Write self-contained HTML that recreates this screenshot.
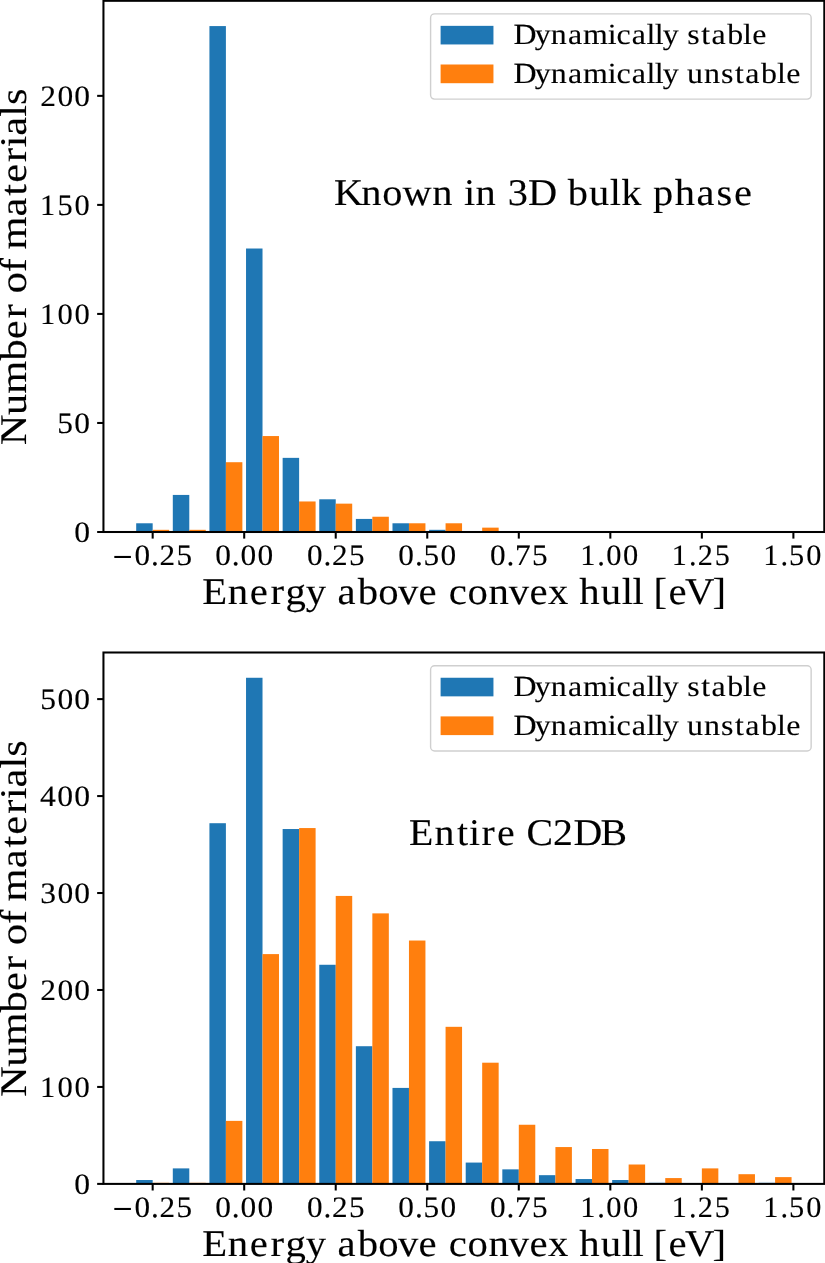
<!DOCTYPE html>
<html><head><meta charset="utf-8"><style>
html,body{margin:0;padding:0;background:#fff;}
svg{display:block;will-change:transform;}
text{font-family:"Liberation Serif",serif;font-kerning:none;fill:#000;text-rendering:geometricPrecision;}
text.l{stroke:#000;stroke-width:0.12px;}
</style></head><body>
<svg width="825" height="1263" viewBox="0 0 825 1263">
<rect x="136.19" y="523.28" width="16.48" height="8.72" fill="#1f77b4"/>
<rect x="152.67" y="529.82" width="16.48" height="2.18" fill="#ff7f0e"/>
<rect x="172.80" y="494.93" width="16.48" height="37.07" fill="#1f77b4"/>
<rect x="189.28" y="529.82" width="16.48" height="2.18" fill="#ff7f0e"/>
<rect x="209.42" y="26.08" width="16.48" height="505.92" fill="#1f77b4"/>
<rect x="225.89" y="462.22" width="16.48" height="69.78" fill="#ff7f0e"/>
<rect x="246.03" y="248.51" width="16.48" height="283.49" fill="#1f77b4"/>
<rect x="262.51" y="436.05" width="16.48" height="95.95" fill="#ff7f0e"/>
<rect x="282.64" y="457.86" width="16.48" height="74.14" fill="#1f77b4"/>
<rect x="299.12" y="501.47" width="16.48" height="30.53" fill="#ff7f0e"/>
<rect x="319.26" y="499.29" width="16.48" height="32.71" fill="#1f77b4"/>
<rect x="335.73" y="503.65" width="16.48" height="28.35" fill="#ff7f0e"/>
<rect x="355.87" y="518.92" width="16.48" height="13.08" fill="#1f77b4"/>
<rect x="372.35" y="516.74" width="16.48" height="15.26" fill="#ff7f0e"/>
<rect x="392.48" y="523.28" width="16.48" height="8.72" fill="#1f77b4"/>
<rect x="408.96" y="523.28" width="16.48" height="8.72" fill="#ff7f0e"/>
<rect x="429.10" y="529.82" width="16.48" height="2.18" fill="#1f77b4"/>
<rect x="445.57" y="523.28" width="16.48" height="8.72" fill="#ff7f0e"/>
<rect x="482.18" y="527.64" width="16.48" height="4.36" fill="#ff7f0e"/>
<rect x="103.45" y="0.80" width="720.85" height="531.20" fill="none" stroke="#000" stroke-width="2.05"/>
<line x1="152.67" y1="532.00" x2="152.67" y2="538.60" stroke="#000" stroke-width="2.05"/>
<text class="l" transform="translate(112.56,570.99) scale(35.783,42.247)" font-size="1" style="stroke:none">−</text>
<text class="l" transform="translate(0,565.30) scale(1.0533,1)" x="127.66 143.43 151.55 167.65" font-size="29.61">0.25</text>
<line x1="244.20" y1="532.00" x2="244.20" y2="538.60" stroke="#000" stroke-width="2.05"/>
<text class="l" transform="translate(0,565.30) scale(1.0610,1)" x="202.81 218.49 226.73 242.68" font-size="29.61">0.00</text>
<line x1="335.73" y1="532.00" x2="335.73" y2="538.60" stroke="#000" stroke-width="2.05"/>
<text class="l" transform="translate(0,565.30) scale(1.0533,1)" x="291.39 307.15 315.27 331.37" font-size="29.61">0.25</text>
<line x1="427.26" y1="532.00" x2="427.26" y2="538.60" stroke="#000" stroke-width="2.05"/>
<text class="l" transform="translate(0,565.30) scale(1.0578,1)" x="376.53 392.24 400.34 416.52" font-size="29.61">0.50</text>
<line x1="518.80" y1="532.00" x2="518.80" y2="538.60" stroke="#000" stroke-width="2.05"/>
<text class="l" transform="translate(0,565.30) scale(1.0564,1)" x="463.81 479.54 487.44 503.68" font-size="29.61">0.75</text>
<line x1="610.33" y1="532.00" x2="610.33" y2="538.60" stroke="#000" stroke-width="2.05"/>
<text class="l" transform="translate(0,565.30) scale(1.0290,1)" x="563.79 580.50 589.12 605.57" font-size="29.61">1.00</text>
<line x1="701.86" y1="532.00" x2="701.86" y2="538.60" stroke="#000" stroke-width="2.05"/>
<text class="l" transform="translate(0,565.30) scale(1.0197,1)" x="658.88 675.71 684.22 700.86" font-size="29.61">1.25</text>
<line x1="793.39" y1="532.00" x2="793.39" y2="538.60" stroke="#000" stroke-width="2.05"/>
<text class="l" transform="translate(0,565.30) scale(1.0250,1)" x="744.60 761.36 769.85 786.54" font-size="29.61">1.50</text>
<line x1="103.45" y1="532.00" x2="97.15" y2="532.00" stroke="#000" stroke-width="2.05"/>
<text class="l" transform="translate(0,541.70) scale(1.0679,1)" x="69.57" font-size="29.61">0</text>
<line x1="103.45" y1="422.97" x2="97.15" y2="422.97" stroke="#000" stroke-width="2.05"/>
<text class="l" transform="translate(0,432.67) scale(1.0627,1)" x="53.84 69.95" font-size="29.61">50</text>
<line x1="103.45" y1="313.93" x2="97.15" y2="313.93" stroke="#000" stroke-width="2.05"/>
<text class="l" transform="translate(0,323.63) scale(1.0331,1)" x="38.73 55.78 72.16" font-size="29.61">100</text>
<line x1="103.45" y1="204.90" x2="97.15" y2="204.90" stroke="#000" stroke-width="2.05"/>
<text class="l" transform="translate(0,214.60) scale(1.0288,1)" x="38.93 55.87 72.49" font-size="29.61">150</text>
<line x1="103.45" y1="95.86" x2="97.15" y2="95.86" stroke="#000" stroke-width="2.05"/>
<text class="l" transform="translate(0,105.56) scale(1.0633,1)" x="37.86 53.99 69.90" font-size="29.61">200</text>
<text class="l" transform="translate(0,603.85) scale(1.0818,1)" x="187.05 210.57 230.87 250.11 263.95 282.66 301.47 311.96 330.67 349.69 367.84 386.97 403.67 414.90 432.07 451.53 470.34 489.48 506.62 525.44 535.56 555.40 574.71 584.70 595.16 604.12 617.87 633.32 658.52" font-size="37.63">Energy above convex hull [eV]</text>
<g transform="translate(25.7,443.01) rotate(-90)">
<text class="l" transform="translate(0,0.00) scale(1.1275,1)" x="-1.97 24.93 43.68 73.08 92.12 110.66 123.19 132.89 151.48 164.01 171.56 200.88 219.29 230.74 249.27 262.10 272.46 289.38 299.77" font-size="37.63">Number of materials</text>
</g>
<text class="l" transform="translate(0,204.80) scale(1.0733,1)" x="311.26 336.57 356.20 375.09 402.76 421.58 432.32 443.13 461.94 473.18 491.94 519.12 529.04 548.80 568.23 578.84 597.66 608.36 628.68 649.01 667.55 683.85" font-size="37.63">Known in 3D bulk phase</text>
<rect x="430.6" y="13.90" width="380.55" height="85.2" rx="4" ry="4" fill="#fff" fill-opacity="0.8" stroke="#cfcfcf" stroke-width="1.4"/>
<rect x="440.6" y="25.85" width="52.85" height="18.6" fill="#1f77b4"/>
<rect x="440.6" y="64.50" width="52.85" height="18.7" fill="#ff7f0e"/>
<text class="l" transform="translate(0,44.35) scale(1.0886,1)" x="471.73 491.16 505.95 521.71 535.56 558.30 566.31 580.28 593.82 601.54 608.80 623.44 631.30 644.20 653.57 668.04 682.58 691.10" font-size="29.28">Dynamically stable</text>
<text class="l" transform="translate(0,83.20) scale(1.0922,1)" x="470.13 489.51 504.24 519.95 533.74 556.43 564.40 578.33 591.83 599.53 606.75 621.39 629.09 644.65 660.20 673.06 682.39 696.81 711.31 719.80" font-size="29.28">Dynamically unstable</text>
<rect x="136.19" y="1180.02" width="16.48" height="3.88" fill="#1f77b4"/>
<rect x="152.67" y="1181.90" width="16.48" height="1" fill="#ff7f0e" fill-opacity="0.22"/>
<rect x="172.80" y="1168.39" width="16.48" height="15.51" fill="#1f77b4"/>
<rect x="189.28" y="1181.90" width="16.48" height="1" fill="#ff7f0e" fill-opacity="0.22"/>
<rect x="209.42" y="823.21" width="16.48" height="360.69" fill="#1f77b4"/>
<rect x="225.89" y="1120.88" width="16.48" height="63.02" fill="#ff7f0e"/>
<rect x="246.03" y="677.77" width="16.48" height="506.13" fill="#1f77b4"/>
<rect x="262.51" y="954.10" width="16.48" height="229.80" fill="#ff7f0e"/>
<rect x="282.64" y="829.03" width="16.48" height="354.87" fill="#1f77b4"/>
<rect x="299.12" y="828.06" width="16.48" height="355.84" fill="#ff7f0e"/>
<rect x="319.26" y="964.77" width="16.48" height="219.13" fill="#1f77b4"/>
<rect x="335.73" y="895.93" width="16.48" height="287.97" fill="#ff7f0e"/>
<rect x="355.87" y="1046.22" width="16.48" height="137.68" fill="#1f77b4"/>
<rect x="372.35" y="913.38" width="16.48" height="270.52" fill="#ff7f0e"/>
<rect x="392.48" y="1087.91" width="16.48" height="95.99" fill="#1f77b4"/>
<rect x="408.96" y="940.53" width="16.48" height="243.37" fill="#ff7f0e"/>
<rect x="429.10" y="1141.24" width="16.48" height="42.66" fill="#1f77b4"/>
<rect x="445.57" y="1026.82" width="16.48" height="157.08" fill="#ff7f0e"/>
<rect x="465.71" y="1162.57" width="16.48" height="21.33" fill="#1f77b4"/>
<rect x="482.18" y="1062.70" width="16.48" height="121.20" fill="#ff7f0e"/>
<rect x="502.32" y="1169.36" width="16.48" height="14.54" fill="#1f77b4"/>
<rect x="518.80" y="1124.75" width="16.48" height="59.15" fill="#ff7f0e"/>
<rect x="538.93" y="1175.17" width="16.48" height="8.73" fill="#1f77b4"/>
<rect x="555.41" y="1147.06" width="16.48" height="36.84" fill="#ff7f0e"/>
<rect x="575.55" y="1179.05" width="16.48" height="4.85" fill="#1f77b4"/>
<rect x="592.02" y="1148.99" width="16.48" height="34.91" fill="#ff7f0e"/>
<rect x="612.16" y="1180.02" width="16.48" height="3.88" fill="#1f77b4"/>
<rect x="628.64" y="1164.51" width="16.48" height="19.39" fill="#ff7f0e"/>
<rect x="648.77" y="1181.90" width="16.48" height="1" fill="#1f77b4" fill-opacity="0.22"/>
<rect x="665.25" y="1178.08" width="16.48" height="5.82" fill="#ff7f0e"/>
<rect x="701.86" y="1168.39" width="16.48" height="15.51" fill="#ff7f0e"/>
<rect x="738.48" y="1174.20" width="16.48" height="9.70" fill="#ff7f0e"/>
<rect x="758.61" y="1181.90" width="16.48" height="1" fill="#1f77b4" fill-opacity="0.22"/>
<rect x="775.09" y="1177.11" width="16.48" height="6.79" fill="#ff7f0e"/>
<rect x="103.45" y="652.50" width="720.85" height="531.40" fill="none" stroke="#000" stroke-width="2.05"/>
<line x1="152.67" y1="1183.90" x2="152.67" y2="1190.50" stroke="#000" stroke-width="2.05"/>
<text class="l" transform="translate(112.56,1222.89) scale(35.783,42.247)" font-size="1" style="stroke:none">−</text>
<text class="l" transform="translate(0,1217.20) scale(1.0533,1)" x="127.66 143.43 151.55 167.65" font-size="29.61">0.25</text>
<line x1="244.20" y1="1183.90" x2="244.20" y2="1190.50" stroke="#000" stroke-width="2.05"/>
<text class="l" transform="translate(0,1217.20) scale(1.0610,1)" x="202.81 218.49 226.73 242.68" font-size="29.61">0.00</text>
<line x1="335.73" y1="1183.90" x2="335.73" y2="1190.50" stroke="#000" stroke-width="2.05"/>
<text class="l" transform="translate(0,1217.20) scale(1.0533,1)" x="291.39 307.15 315.27 331.37" font-size="29.61">0.25</text>
<line x1="427.26" y1="1183.90" x2="427.26" y2="1190.50" stroke="#000" stroke-width="2.05"/>
<text class="l" transform="translate(0,1217.20) scale(1.0578,1)" x="376.53 392.24 400.34 416.52" font-size="29.61">0.50</text>
<line x1="518.80" y1="1183.90" x2="518.80" y2="1190.50" stroke="#000" stroke-width="2.05"/>
<text class="l" transform="translate(0,1217.20) scale(1.0564,1)" x="463.81 479.54 487.44 503.68" font-size="29.61">0.75</text>
<line x1="610.33" y1="1183.90" x2="610.33" y2="1190.50" stroke="#000" stroke-width="2.05"/>
<text class="l" transform="translate(0,1217.20) scale(1.0290,1)" x="563.79 580.50 589.12 605.57" font-size="29.61">1.00</text>
<line x1="701.86" y1="1183.90" x2="701.86" y2="1190.50" stroke="#000" stroke-width="2.05"/>
<text class="l" transform="translate(0,1217.20) scale(1.0197,1)" x="658.88 675.71 684.22 700.86" font-size="29.61">1.25</text>
<line x1="793.39" y1="1183.90" x2="793.39" y2="1190.50" stroke="#000" stroke-width="2.05"/>
<text class="l" transform="translate(0,1217.20) scale(1.0250,1)" x="744.60 761.36 769.85 786.54" font-size="29.61">1.50</text>
<line x1="103.45" y1="1183.90" x2="97.15" y2="1183.90" stroke="#000" stroke-width="2.05"/>
<text class="l" transform="translate(0,1193.60) scale(1.0679,1)" x="69.57" font-size="29.61">0</text>
<line x1="103.45" y1="1086.94" x2="97.15" y2="1086.94" stroke="#000" stroke-width="2.05"/>
<text class="l" transform="translate(0,1096.64) scale(1.0331,1)" x="38.73 55.78 72.16" font-size="29.61">100</text>
<line x1="103.45" y1="989.98" x2="97.15" y2="989.98" stroke="#000" stroke-width="2.05"/>
<text class="l" transform="translate(0,999.68) scale(1.0633,1)" x="37.86 53.99 69.90" font-size="29.61">200</text>
<line x1="103.45" y1="893.02" x2="97.15" y2="893.02" stroke="#000" stroke-width="2.05"/>
<text class="l" transform="translate(0,902.72) scale(1.0641,1)" x="37.93 53.94 69.84" font-size="29.61">300</text>
<line x1="103.45" y1="796.06" x2="97.15" y2="796.06" stroke="#000" stroke-width="2.05"/>
<text class="l" transform="translate(0,805.76) scale(1.0696,1)" x="37.51 53.62 69.44" font-size="29.61">400</text>
<line x1="103.45" y1="699.10" x2="97.15" y2="699.10" stroke="#000" stroke-width="2.05"/>
<text class="l" transform="translate(0,708.80) scale(1.0644,1)" x="37.84 53.92 69.82" font-size="29.61">500</text>
<text class="l" transform="translate(0,1255.75) scale(1.0818,1)" x="187.05 210.57 230.87 250.11 263.95 282.66 301.47 311.96 330.67 349.69 367.84 386.97 403.67 414.90 432.07 451.53 470.34 489.48 506.62 525.44 535.56 555.40 574.71 584.70 595.16 604.12 617.87 633.32 658.52" font-size="37.63">Energy above convex hull [eV]</text>
<g transform="translate(25.7,1094.81) rotate(-90)">
<text class="l" transform="translate(0,0.00) scale(1.1275,1)" x="-1.97 24.93 43.68 73.08 92.12 110.66 123.19 132.89 151.48 164.01 171.56 200.88 219.29 230.74 249.27 262.10 272.46 289.38 299.77" font-size="37.63">Number of materials</text>
</g>
<text class="l" transform="translate(0,844.85) scale(1.0578,1)" x="386.76 410.78 431.95 443.39 455.29 469.85 486.55 497.77 522.83 542.07 567.76" font-size="37.63">Entire C2DB</text>
<rect x="430.6" y="665.80" width="380.55" height="85.2" rx="4" ry="4" fill="#fff" fill-opacity="0.8" stroke="#cfcfcf" stroke-width="1.4"/>
<rect x="440.6" y="677.75" width="52.85" height="18.6" fill="#1f77b4"/>
<rect x="440.6" y="716.40" width="52.85" height="18.7" fill="#ff7f0e"/>
<text class="l" transform="translate(0,696.25) scale(1.0886,1)" x="471.73 491.16 505.95 521.71 535.56 558.30 566.31 580.28 593.82 601.54 608.80 623.44 631.30 644.20 653.57 668.04 682.58 691.10" font-size="29.28">Dynamically stable</text>
<text class="l" transform="translate(0,735.10) scale(1.0922,1)" x="470.13 489.51 504.24 519.95 533.74 556.43 564.40 578.33 591.83 599.53 606.75 621.39 629.09 644.65 660.20 673.06 682.39 696.81 711.31 719.80" font-size="29.28">Dynamically unstable</text>
</svg>
</body></html>
